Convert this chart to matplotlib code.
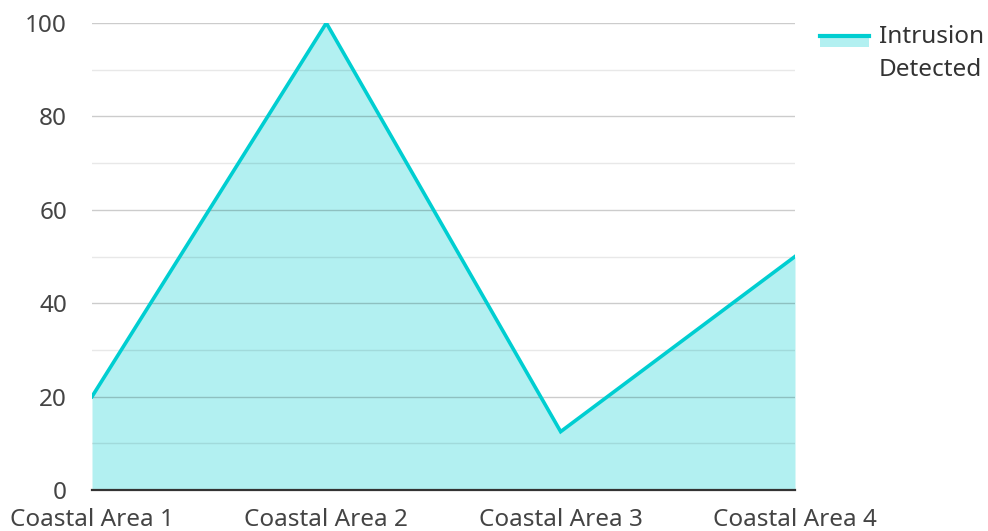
import matplotlib
matplotlib.use("Agg")
import matplotlib.pyplot as plt
from matplotlib.lines import Line2D
from matplotlib.patches import Rectangle
from matplotlib.legend_handler import HandlerBase

plt.rcParams['font.family'] = ['Noto Sans', 'DejaVu Sans']

categories = ["Coastal Area 1", "Coastal Area 2", "Coastal Area 3", "Coastal Area 4"]
values = [20, 100, 12.5, 50]
series_name = "Intrusion\nDetected"
yticks = [0, 20, 40, 60, 80, 100]
minor_yticks = [10, 30, 50, 70, 90]

color = "#00CED1"
FS = 17.5

fig = plt.figure(figsize=(9.88, 5.31), dpi=100)
ax = fig.add_axes([92/988, 1-490/531, (795-92)/988, (490-23)/531])

x = list(range(len(categories)))
ax.fill_between(x, values, 0, color=color, alpha=0.3, linewidth=0, zorder=1)
ax.plot(x, values, color=color, linewidth=2.6, zorder=3, solid_joinstyle='miter')

ax.set_xlim(0, len(categories) - 1)
ax.set_ylim(0, 100)
ax.set_yticks(yticks)
ax.set_yticks(minor_yticks, minor=True)
ax.set_xticks(x)
ax.set_xticklabels(categories)
ax.grid(axis='y', which='major', color='black', alpha=0.2, linewidth=1, zorder=2)
ax.grid(axis='y', which='minor', color='black', alpha=0.09, linewidth=1, zorder=2)
ax.set_axisbelow(False)
for s in ['top', 'right', 'left']:
    ax.spines[s].set_visible(False)
ax.spines['bottom'].set_color('#333333')
ax.spines['bottom'].set_linewidth(1.6)
ax.spines['bottom'].set_zorder(4)
ax.tick_params(axis='both', which='both', length=0, labelsize=FS, labelcolor='#444444')
ax.tick_params(axis='x', pad=13)
ax.tick_params(axis='y', pad=18)


class AreaHandler(HandlerBase):
    def create_artists(self, legend, orig_handle, xdescent, ydescent, width, height, fontsize, trans):
        top = -ydescent + height * 0.55 + 12.6
        r = Rectangle((-xdescent, top - 8.5), width, 8.5, facecolor=color, alpha=0.3,
                      transform=trans, linewidth=0)
        l = Line2D([-xdescent, -xdescent + width], [top, top], color=color,
                   linewidth=3, transform=trans)
        return [r, l]


leg = fig.legend([object()], [series_name], handler_map={object: AreaHandler()},
                 loc='upper left', bbox_to_anchor=(820/988, 1-25/531), frameon=False,
                 borderpad=0, borderaxespad=0,
                 fontsize=FS, handlelength=2.0, handleheight=0.7, handletextpad=0.42,
                 labelcolor='#333333')
for t in leg.get_texts():
    t.set_linespacing(1.5)

fig.savefig("out.png", dpi=100)
